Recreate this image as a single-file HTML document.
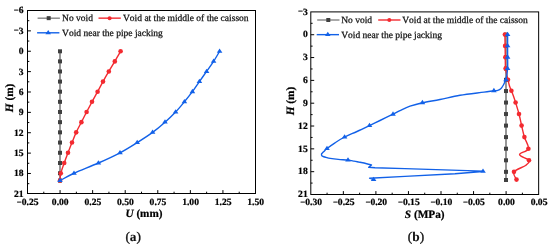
<!DOCTYPE html>
<html><head><meta charset="utf-8"><title>Figure</title>
<style>
html,body{margin:0;padding:0;background:#fff;}
svg{display:block;font-family:"Liberation Serif",serif;fill:#111;font-kerning:none;text-rendering:geometricPrecision;}
</style></head><body>
<svg width="550" height="247" viewBox="0 0 550 247">
<rect width="550" height="247" fill="#fff"/>
<rect x="27.5" y="10.5" width="228.0" height="183.0" fill="none" stroke="#000" stroke-width="1.0"/>
<text x="23.5" y="13.4" font-size="9.6" text-anchor="end" font-weight="bold" fill="#000" stroke="#000" stroke-width="0.22"><tspan font-size="8.7" dy="-0.4">−</tspan><tspan dy="0.4">6</tspan></text>
<path d="M27.5,30.87h3.4" stroke="#000" stroke-width="1"/>
<text x="23.5" y="33.77" font-size="9.6" text-anchor="end" font-weight="bold" fill="#000" stroke="#000" stroke-width="0.22"><tspan font-size="8.7" dy="-0.4">−</tspan><tspan dy="0.4">3</tspan></text>
<path d="M27.5,51.24h3.4" stroke="#000" stroke-width="1"/>
<text x="23.5" y="54.14" font-size="9.6" text-anchor="end" font-weight="bold" fill="#000" stroke="#000" stroke-width="0.22">0</text>
<path d="M27.5,71.62h3.4" stroke="#000" stroke-width="1"/>
<text x="23.5" y="74.52" font-size="9.6" text-anchor="end" font-weight="bold" fill="#000" stroke="#000" stroke-width="0.22">3</text>
<path d="M27.5,91.99h3.4" stroke="#000" stroke-width="1"/>
<text x="23.5" y="94.89" font-size="9.6" text-anchor="end" font-weight="bold" fill="#000" stroke="#000" stroke-width="0.22">6</text>
<path d="M27.5,112.36h3.4" stroke="#000" stroke-width="1"/>
<text x="23.5" y="115.26" font-size="9.6" text-anchor="end" font-weight="bold" fill="#000" stroke="#000" stroke-width="0.22">9</text>
<path d="M27.5,132.73h3.4" stroke="#000" stroke-width="1"/>
<text x="23.5" y="135.63" font-size="9.6" text-anchor="end" font-weight="bold" fill="#000" stroke="#000" stroke-width="0.22">12</text>
<path d="M27.5,153.11h3.4" stroke="#000" stroke-width="1"/>
<text x="23.5" y="156.01" font-size="9.6" text-anchor="end" font-weight="bold" fill="#000" stroke="#000" stroke-width="0.22">15</text>
<path d="M27.5,173.48h3.4" stroke="#000" stroke-width="1"/>
<text x="23.5" y="176.38" font-size="9.6" text-anchor="end" font-weight="bold" fill="#000" stroke="#000" stroke-width="0.22">18</text>
<text x="23.5" y="196.75" font-size="9.6" text-anchor="end" font-weight="bold" fill="#000" stroke="#000" stroke-width="0.22">21</text>
<path d="M27.5,20.69h1.8" stroke="#000" stroke-width="1"/>
<path d="M27.5,41.06h1.8" stroke="#000" stroke-width="1"/>
<path d="M27.5,61.43h1.8" stroke="#000" stroke-width="1"/>
<path d="M27.5,81.80h1.8" stroke="#000" stroke-width="1"/>
<path d="M27.5,102.17h1.8" stroke="#000" stroke-width="1"/>
<path d="M27.5,122.55h1.8" stroke="#000" stroke-width="1"/>
<path d="M27.5,142.92h1.8" stroke="#000" stroke-width="1"/>
<path d="M27.5,163.29h1.8" stroke="#000" stroke-width="1"/>
<path d="M27.5,183.66h1.8" stroke="#000" stroke-width="1"/>
<text x="27.7" y="205.2" font-size="9.6" text-anchor="middle" font-weight="bold" fill="#000" stroke="#000" stroke-width="0.22"><tspan font-size="8.7" dy="-0.4">−</tspan><tspan dy="0.4">0.25</tspan></text>
<path d="M60.07,193.5v-3.4" stroke="#000" stroke-width="1"/>
<text x="60.27" y="205.2" font-size="9.6" text-anchor="middle" font-weight="bold" fill="#000" stroke="#000" stroke-width="0.22">0.00</text>
<path d="M92.64,193.5v-3.4" stroke="#000" stroke-width="1"/>
<text x="92.84" y="205.2" font-size="9.6" text-anchor="middle" font-weight="bold" fill="#000" stroke="#000" stroke-width="0.22">0.25</text>
<path d="M125.21,193.5v-3.4" stroke="#000" stroke-width="1"/>
<text x="125.41" y="205.2" font-size="9.6" text-anchor="middle" font-weight="bold" fill="#000" stroke="#000" stroke-width="0.22">0.50</text>
<path d="M157.79,193.5v-3.4" stroke="#000" stroke-width="1"/>
<text x="157.99" y="205.2" font-size="9.6" text-anchor="middle" font-weight="bold" fill="#000" stroke="#000" stroke-width="0.22">0.75</text>
<path d="M190.36,193.5v-3.4" stroke="#000" stroke-width="1"/>
<text x="190.56" y="205.2" font-size="9.6" text-anchor="middle" font-weight="bold" fill="#000" stroke="#000" stroke-width="0.22">1.00</text>
<path d="M222.93,193.5v-3.4" stroke="#000" stroke-width="1"/>
<text x="223.13" y="205.2" font-size="9.6" text-anchor="middle" font-weight="bold" fill="#000" stroke="#000" stroke-width="0.22">1.25</text>
<text x="255.7" y="205.2" font-size="9.6" text-anchor="middle" font-weight="bold" fill="#000" stroke="#000" stroke-width="0.22">1.50</text>
<path d="M43.79,193.5v-1.8" stroke="#000" stroke-width="1"/>
<path d="M76.36,193.5v-1.8" stroke="#000" stroke-width="1"/>
<path d="M108.93,193.5v-1.8" stroke="#000" stroke-width="1"/>
<path d="M141.50,193.5v-1.8" stroke="#000" stroke-width="1"/>
<path d="M174.07,193.5v-1.8" stroke="#000" stroke-width="1"/>
<path d="M206.64,193.5v-1.8" stroke="#000" stroke-width="1"/>
<path d="M239.21,193.5v-1.8" stroke="#000" stroke-width="1"/>
<path d="M60.00,51.30L60.00,61.38L60.00,71.47L60.00,81.58L60.00,91.69L60.00,101.82L60.00,111.97L60.00,122.15L60.00,132.34L60.00,142.55L60.00,152.78L60.00,163.01L60.00,173.25L60.00,180.60" fill="none" stroke="#404040" stroke-width="1.1"/>
<rect x="58.00" y="49.30" width="4.0" height="4.0" fill="#404040"/>
<rect x="58.00" y="59.38" width="4.0" height="4.0" fill="#404040"/>
<rect x="58.00" y="69.47" width="4.0" height="4.0" fill="#404040"/>
<rect x="58.00" y="79.58" width="4.0" height="4.0" fill="#404040"/>
<rect x="58.00" y="89.69" width="4.0" height="4.0" fill="#404040"/>
<rect x="58.00" y="99.82" width="4.0" height="4.0" fill="#404040"/>
<rect x="58.00" y="109.97" width="4.0" height="4.0" fill="#404040"/>
<rect x="58.00" y="120.15" width="4.0" height="4.0" fill="#404040"/>
<rect x="58.00" y="130.34" width="4.0" height="4.0" fill="#404040"/>
<rect x="58.00" y="140.55" width="4.0" height="4.0" fill="#404040"/>
<rect x="58.00" y="150.78" width="4.0" height="4.0" fill="#404040"/>
<rect x="58.00" y="161.01" width="4.0" height="4.0" fill="#404040"/>
<rect x="58.00" y="171.25" width="4.0" height="4.0" fill="#404040"/>
<rect x="58.00" y="178.60" width="4.0" height="4.0" fill="#404040"/>
<path d="M120.60,51.30C119.63,52.98 116.77,58.02 114.80,61.38C112.83,64.75 110.77,68.11 108.80,71.47C106.83,74.84 104.87,78.21 103.00,81.58C101.13,84.94 99.43,88.32 97.60,91.69C95.77,95.06 93.83,98.44 92.00,101.82C90.17,105.20 88.37,108.59 86.60,111.97C84.83,115.36 83.13,118.75 81.40,122.15C79.67,125.54 77.77,128.94 76.20,132.34C74.63,135.74 73.37,139.14 72.00,142.55C70.63,145.96 69.30,149.37 68.00,152.78C66.70,156.18 65.40,159.60 64.20,163.01C63.00,166.42 61.50,170.32 60.80,173.25C60.10,176.18 60.13,179.38 60.00,180.60" fill="none" stroke="#f32a30" stroke-width="1.4"/>
<circle cx="120.60" cy="51.30" r="2.3" fill="#f32a30"/>
<circle cx="114.80" cy="61.38" r="2.3" fill="#f32a30"/>
<circle cx="108.80" cy="71.47" r="2.3" fill="#f32a30"/>
<circle cx="103.00" cy="81.58" r="2.3" fill="#f32a30"/>
<circle cx="97.60" cy="91.69" r="2.3" fill="#f32a30"/>
<circle cx="92.00" cy="101.82" r="2.3" fill="#f32a30"/>
<circle cx="86.60" cy="111.97" r="2.3" fill="#f32a30"/>
<circle cx="81.40" cy="122.15" r="2.3" fill="#f32a30"/>
<circle cx="76.20" cy="132.34" r="2.3" fill="#f32a30"/>
<circle cx="72.00" cy="142.55" r="2.3" fill="#f32a30"/>
<circle cx="68.00" cy="152.78" r="2.3" fill="#f32a30"/>
<circle cx="64.20" cy="163.01" r="2.3" fill="#f32a30"/>
<circle cx="60.80" cy="173.25" r="2.3" fill="#f32a30"/>
<circle cx="60.00" cy="180.60" r="2.3" fill="#f32a30"/>
<path d="M219.60,51.30C218.60,52.98 215.77,58.02 213.60,61.38C211.43,64.75 208.97,68.11 206.60,71.47C204.23,74.84 201.77,78.21 199.40,81.58C197.03,84.94 194.90,88.32 192.40,91.69C189.90,95.06 187.20,98.44 184.40,101.82C181.60,105.20 178.83,108.59 175.60,111.97C172.37,115.36 168.83,118.75 165.00,122.15C161.17,125.54 157.23,128.94 152.60,132.34C147.97,135.74 142.63,139.14 137.20,142.55C131.77,145.96 126.47,149.37 120.00,152.78C113.53,156.18 106.07,159.60 98.40,163.01C90.73,166.42 80.40,170.32 74.00,173.25C67.60,176.18 62.33,179.38 60.00,180.60" fill="none" stroke="#1261e8" stroke-width="1.4"/>
<path d="M219.60,48.46L222.40,52.76L216.80,52.76Z" fill="#1261e8"/>
<path d="M213.60,58.55L216.40,62.85L210.80,62.85Z" fill="#1261e8"/>
<path d="M206.60,68.64L209.40,72.94L203.80,72.94Z" fill="#1261e8"/>
<path d="M199.40,78.74L202.20,83.04L196.60,83.04Z" fill="#1261e8"/>
<path d="M192.40,88.85L195.20,93.15L189.60,93.15Z" fill="#1261e8"/>
<path d="M184.40,98.98L187.20,103.28L181.60,103.28Z" fill="#1261e8"/>
<path d="M175.60,109.14L178.40,113.44L172.80,113.44Z" fill="#1261e8"/>
<path d="M165.00,119.31L167.80,123.61L162.20,123.61Z" fill="#1261e8"/>
<path d="M152.60,129.50L155.40,133.80L149.80,133.80Z" fill="#1261e8"/>
<path d="M137.20,139.71L140.00,144.01L134.40,144.01Z" fill="#1261e8"/>
<path d="M120.00,149.94L122.80,154.24L117.20,154.24Z" fill="#1261e8"/>
<path d="M98.40,160.17L101.20,164.47L95.60,164.47Z" fill="#1261e8"/>
<path d="M74.00,170.41L76.80,174.71L71.20,174.71Z" fill="#1261e8"/>
<path d="M60.00,177.76L62.80,182.06L57.20,182.06Z" fill="#1261e8"/>
<path d="M37.6,18.15h22.3" stroke="#404040" stroke-width="0.9000000000000001"/>
<rect x="46.70" y="16.15" width="4.0" height="4.0" fill="#404040"/>
<text x="62.1" y="20.9" font-size="9.51" text-anchor="start" font-weight="normal" stroke="#111" stroke-width="0.25">No void</text>
<path d="M98.5,18.15h22.3" stroke="#f32a30" stroke-width="1.4"/>
<circle cx="109.60" cy="18.15" r="2.0" fill="#f32a30"/>
<text x="123.0" y="20.9" font-size="9.51" text-anchor="start" font-weight="normal" stroke="#111" stroke-width="0.25">Void at the middle of the caisson</text>
<path d="M37.1,32.8h22.3" stroke="#1261e8" stroke-width="1.4"/>
<path d="M48.20,29.96L51.00,34.26L45.40,34.26Z" fill="#1261e8"/>
<text x="62.1" y="35.7" font-size="9.51" text-anchor="start" font-weight="normal" stroke="#111" stroke-width="0.25">Void near the pipe jacking</text>
<text x="144" y="217.4" font-size="11.2" text-anchor="middle" font-weight="bold" fill="#000" stroke="#000" stroke-width="0.22"><tspan font-style="italic">U</tspan> (mm)</text>
<text transform="translate(12.5,97.9) rotate(-90)" font-size="11.3" text-anchor="middle" font-weight="bold" fill="#000" stroke="#000" stroke-width="0.22"><tspan font-style="italic">H</tspan> (m)</text>
<text x="133.2" y="240.6" font-size="13.3" text-anchor="middle" font-weight="normal" fill="#111" stroke="#111" stroke-width="0.35">(<tspan font-weight="bold" stroke-width="0.1">a</tspan>)</text>
<rect x="310.8" y="11.9" width="227.84999999999997" height="182.6" fill="none" stroke="#000" stroke-width="1.0"/>
<text x="307.7" y="14.6" font-size="9.6" text-anchor="end" font-weight="bold" fill="#000" stroke="#000" stroke-width="0.22"><tspan font-size="8.7" dy="-0.4">−</tspan><tspan dy="0.4">3</tspan></text>
<path d="M310.8,34.73h3.4" stroke="#000" stroke-width="1"/>
<text x="307.7" y="37.43" font-size="9.6" text-anchor="end" font-weight="bold" fill="#000" stroke="#000" stroke-width="0.22">0</text>
<path d="M310.8,57.55h3.4" stroke="#000" stroke-width="1"/>
<text x="307.7" y="60.25" font-size="9.6" text-anchor="end" font-weight="bold" fill="#000" stroke="#000" stroke-width="0.22">3</text>
<path d="M310.8,80.38h3.4" stroke="#000" stroke-width="1"/>
<text x="307.7" y="83.08" font-size="9.6" text-anchor="end" font-weight="bold" fill="#000" stroke="#000" stroke-width="0.22">6</text>
<path d="M310.8,103.20h3.4" stroke="#000" stroke-width="1"/>
<text x="307.7" y="105.9" font-size="9.6" text-anchor="end" font-weight="bold" fill="#000" stroke="#000" stroke-width="0.22">9</text>
<path d="M310.8,126.03h3.4" stroke="#000" stroke-width="1"/>
<text x="307.7" y="128.72" font-size="9.6" text-anchor="end" font-weight="bold" fill="#000" stroke="#000" stroke-width="0.22">12</text>
<path d="M310.8,148.85h3.4" stroke="#000" stroke-width="1"/>
<text x="307.7" y="151.55" font-size="9.6" text-anchor="end" font-weight="bold" fill="#000" stroke="#000" stroke-width="0.22">15</text>
<path d="M310.8,171.68h3.4" stroke="#000" stroke-width="1"/>
<text x="307.7" y="174.38" font-size="9.6" text-anchor="end" font-weight="bold" fill="#000" stroke="#000" stroke-width="0.22">18</text>
<text x="307.7" y="197.2" font-size="9.6" text-anchor="end" font-weight="bold" fill="#000" stroke="#000" stroke-width="0.22">21</text>
<path d="M310.8,23.31h1.8" stroke="#000" stroke-width="1"/>
<path d="M310.8,46.14h1.8" stroke="#000" stroke-width="1"/>
<path d="M310.8,68.96h1.8" stroke="#000" stroke-width="1"/>
<path d="M310.8,91.79h1.8" stroke="#000" stroke-width="1"/>
<path d="M310.8,114.61h1.8" stroke="#000" stroke-width="1"/>
<path d="M310.8,137.44h1.8" stroke="#000" stroke-width="1"/>
<path d="M310.8,160.26h1.8" stroke="#000" stroke-width="1"/>
<path d="M310.8,183.09h1.8" stroke="#000" stroke-width="1"/>
<text x="311.2" y="205.15" font-size="9.6" text-anchor="middle" font-weight="bold" fill="#000" stroke="#000" stroke-width="0.22"><tspan font-size="8.7" dy="-0.4">−</tspan><tspan dy="0.4">0.30</tspan></text>
<path d="M343.35,194.5v-3.4" stroke="#000" stroke-width="1"/>
<text x="343.75" y="205.15" font-size="9.6" text-anchor="middle" font-weight="bold" fill="#000" stroke="#000" stroke-width="0.22"><tspan font-size="8.7" dy="-0.4">−</tspan><tspan dy="0.4">0.25</tspan></text>
<path d="M375.90,194.5v-3.4" stroke="#000" stroke-width="1"/>
<text x="376.3" y="205.15" font-size="9.6" text-anchor="middle" font-weight="bold" fill="#000" stroke="#000" stroke-width="0.22"><tspan font-size="8.7" dy="-0.4">−</tspan><tspan dy="0.4">0.20</tspan></text>
<path d="M408.45,194.5v-3.4" stroke="#000" stroke-width="1"/>
<text x="408.85" y="205.15" font-size="9.6" text-anchor="middle" font-weight="bold" fill="#000" stroke="#000" stroke-width="0.22"><tspan font-size="8.7" dy="-0.4">−</tspan><tspan dy="0.4">0.15</tspan></text>
<path d="M441.00,194.5v-3.4" stroke="#000" stroke-width="1"/>
<text x="441.4" y="205.15" font-size="9.6" text-anchor="middle" font-weight="bold" fill="#000" stroke="#000" stroke-width="0.22"><tspan font-size="8.7" dy="-0.4">−</tspan><tspan dy="0.4">0.10</tspan></text>
<path d="M473.55,194.5v-3.4" stroke="#000" stroke-width="1"/>
<text x="473.95" y="205.15" font-size="9.6" text-anchor="middle" font-weight="bold" fill="#000" stroke="#000" stroke-width="0.22"><tspan font-size="8.7" dy="-0.4">−</tspan><tspan dy="0.4">0.05</tspan></text>
<path d="M506.10,194.5v-3.4" stroke="#000" stroke-width="1"/>
<text x="506.5" y="205.15" font-size="9.6" text-anchor="middle" font-weight="bold" fill="#000" stroke="#000" stroke-width="0.22">0.00</text>
<text x="539.05" y="205.15" font-size="9.6" text-anchor="middle" font-weight="bold" fill="#000" stroke="#000" stroke-width="0.22">0.05</text>
<path d="M327.07,194.5v-1.8" stroke="#000" stroke-width="1"/>
<path d="M359.62,194.5v-1.8" stroke="#000" stroke-width="1"/>
<path d="M392.17,194.5v-1.8" stroke="#000" stroke-width="1"/>
<path d="M424.73,194.5v-1.8" stroke="#000" stroke-width="1"/>
<path d="M457.27,194.5v-1.8" stroke="#000" stroke-width="1"/>
<path d="M489.82,194.5v-1.8" stroke="#000" stroke-width="1"/>
<path d="M522.38,194.5v-1.8" stroke="#000" stroke-width="1"/>
<path d="M506.00,34.60L506.00,45.90L506.00,57.20L506.00,68.55L506.00,79.80L506.00,91.05L506.00,102.55L506.00,114.05L506.00,125.60L506.00,137.10L506.00,148.70L506.00,160.30L506.00,171.85L506.00,180.00" fill="none" stroke="#404040" stroke-width="1.1"/>
<rect x="504.00" y="32.60" width="4.0" height="4.0" fill="#404040"/>
<rect x="504.00" y="43.90" width="4.0" height="4.0" fill="#404040"/>
<rect x="504.00" y="55.20" width="4.0" height="4.0" fill="#404040"/>
<rect x="504.00" y="66.55" width="4.0" height="4.0" fill="#404040"/>
<rect x="504.00" y="77.80" width="4.0" height="4.0" fill="#404040"/>
<rect x="504.00" y="89.05" width="4.0" height="4.0" fill="#404040"/>
<rect x="504.00" y="100.55" width="4.0" height="4.0" fill="#404040"/>
<rect x="504.00" y="112.05" width="4.0" height="4.0" fill="#404040"/>
<rect x="504.00" y="123.60" width="4.0" height="4.0" fill="#404040"/>
<rect x="504.00" y="135.10" width="4.0" height="4.0" fill="#404040"/>
<rect x="504.00" y="146.70" width="4.0" height="4.0" fill="#404040"/>
<rect x="504.00" y="158.30" width="4.0" height="4.0" fill="#404040"/>
<rect x="504.00" y="169.85" width="4.0" height="4.0" fill="#404040"/>
<rect x="504.00" y="178.00" width="4.0" height="4.0" fill="#404040"/>
<path d="M504.90,34.60C504.93,36.48 505.03,42.13 505.10,45.90C505.17,49.67 505.22,53.43 505.30,57.20C505.38,60.98 505.15,64.78 505.60,68.55C506.05,72.32 507.35,76.89 508.00,79.80C508.65,82.71 508.93,84.17 509.50,86.00C510.07,87.83 510.72,89.00 511.40,90.75C512.08,92.50 512.90,94.53 513.60,96.50C514.30,98.47 514.70,99.62 515.60,102.55C516.50,105.47 518.00,110.21 519.00,114.05C520.00,117.89 520.70,121.76 521.60,125.60C522.50,129.44 523.27,133.25 524.40,137.10C525.53,140.95 529.20,145.78 528.40,148.70C527.60,151.62 519.50,152.67 519.60,154.60C519.70,156.53 527.93,158.53 529.00,160.30C530.07,162.07 528.50,163.27 526.00,165.20C523.50,167.12 515.58,169.45 514.00,171.85C512.42,174.25 516.08,178.31 516.50,179.60" fill="none" stroke="#f32a30" stroke-width="1.4"/>
<circle cx="504.90" cy="34.60" r="2.3" fill="#f32a30"/>
<circle cx="505.10" cy="45.90" r="2.3" fill="#f32a30"/>
<circle cx="505.30" cy="57.20" r="2.3" fill="#f32a30"/>
<circle cx="505.60" cy="68.55" r="2.3" fill="#f32a30"/>
<circle cx="508.00" cy="79.80" r="2.3" fill="#f32a30"/>
<circle cx="511.40" cy="90.75" r="2.3" fill="#f32a30"/>
<circle cx="515.60" cy="102.55" r="2.3" fill="#f32a30"/>
<circle cx="519.00" cy="114.05" r="2.3" fill="#f32a30"/>
<circle cx="521.60" cy="125.60" r="2.3" fill="#f32a30"/>
<circle cx="524.40" cy="137.10" r="2.3" fill="#f32a30"/>
<circle cx="528.40" cy="148.70" r="2.3" fill="#f32a30"/>
<circle cx="529.00" cy="160.30" r="2.3" fill="#f32a30"/>
<circle cx="514.00" cy="171.85" r="2.3" fill="#f32a30"/>
<circle cx="516.50" cy="179.60" r="2.3" fill="#f32a30"/>
<path d="M507.60,34.60C507.60,36.48 507.60,42.13 507.60,45.90C507.60,49.67 507.60,53.43 507.60,57.20C507.60,60.98 507.87,64.78 507.60,68.55C507.33,72.32 506.48,77.52 506.00,79.80C505.52,82.08 505.13,81.33 504.70,82.20C504.27,83.07 504.02,83.93 503.40,85.00C502.78,86.07 501.93,87.70 501.00,88.60C500.07,89.50 498.98,90.05 497.80,90.40C496.62,90.75 496.20,90.42 493.90,90.70C491.60,90.98 489.65,91.33 484.00,92.10C478.35,92.87 467.33,94.07 460.00,95.30C452.67,96.53 446.27,98.27 440.00,99.50C433.73,100.73 427.40,101.58 422.40,102.70C417.40,103.82 413.73,104.88 410.00,106.20C406.27,107.52 402.83,109.27 400.00,110.60C397.17,111.93 396.33,112.55 393.00,114.20C389.67,115.85 383.92,118.60 380.00,120.50C376.08,122.40 373.33,123.77 369.50,125.60C365.67,127.43 361.15,129.60 357.00,131.50C352.85,133.40 348.27,135.12 344.60,137.00C340.93,138.88 337.93,140.88 335.00,142.80C332.07,144.72 328.90,147.00 327.00,148.50C325.10,150.00 324.50,150.93 323.60,151.80C322.70,152.67 321.93,153.38 321.60,153.70C321.60,153.95 321.40,154.75 321.60,155.20C321.80,155.65 322.07,156.03 322.80,156.40C323.53,156.77 324.77,157.07 326.00,157.40C327.23,157.73 328.15,158.07 330.20,158.40C332.25,158.73 335.33,159.12 338.30,159.40C341.27,159.68 345.38,159.82 348.00,160.10C350.62,160.38 352.17,160.77 354.00,161.10C355.83,161.43 356.88,161.67 359.00,162.10C361.12,162.53 364.62,163.23 366.70,163.70C368.78,164.17 370.70,164.70 371.50,164.90L371.50,164.90L368.70,167.20L375.00,167.70L405.00,168.60L483.00,171.10L479.50,171.80L455.00,173.70L405.00,176.40L369.60,178.20L373.60,179.60" fill="none" stroke="#1261e8" stroke-width="1.4" stroke-linejoin="round"/>
<path d="M507.60,31.76L510.40,36.06L504.80,36.06Z" fill="#1261e8"/>
<path d="M507.60,43.06L510.40,47.36L504.80,47.36Z" fill="#1261e8"/>
<path d="M507.60,54.36L510.40,58.66L504.80,58.66Z" fill="#1261e8"/>
<path d="M507.60,65.71L510.40,70.01L504.80,70.01Z" fill="#1261e8"/>
<path d="M506.00,76.96L508.80,81.26L503.20,81.26Z" fill="#1261e8"/>
<path d="M493.90,87.86L496.70,92.16L491.10,92.16Z" fill="#1261e8"/>
<path d="M422.40,99.86L425.20,104.16L419.60,104.16Z" fill="#1261e8"/>
<path d="M393.00,111.36L395.80,115.66L390.20,115.66Z" fill="#1261e8"/>
<path d="M369.50,122.76L372.30,127.06L366.70,127.06Z" fill="#1261e8"/>
<path d="M344.60,134.16L347.40,138.46L341.80,138.46Z" fill="#1261e8"/>
<path d="M327.00,145.66L329.80,149.96L324.20,149.96Z" fill="#1261e8"/>
<path d="M348.00,157.26L350.80,161.56L345.20,161.56Z" fill="#1261e8"/>
<path d="M483.00,168.56L485.80,172.86L480.20,172.86Z" fill="#1261e8"/>
<path d="M373.60,176.76L376.40,181.06L370.80,181.06Z" fill="#1261e8"/>
<path d="M317.2,20.0h22.3" stroke="#404040" stroke-width="0.9000000000000001"/>
<rect x="326.30" y="18.00" width="4.0" height="4.0" fill="#404040"/>
<text x="341.2" y="22.85" font-size="9.51" text-anchor="start" font-weight="normal" stroke="#111" stroke-width="0.25">No void</text>
<path d="M378.2,20.0h22.3" stroke="#f32a30" stroke-width="1.4"/>
<circle cx="389.30" cy="20.00" r="2.0" fill="#f32a30"/>
<text x="402.2" y="22.85" font-size="9.51" text-anchor="start" font-weight="normal" stroke="#111" stroke-width="0.25">Void at the middle of the caisson</text>
<path d="M316.7,34.65h22.3" stroke="#1261e8" stroke-width="1.4"/>
<path d="M327.80,31.81L330.60,36.11L325.00,36.11Z" fill="#1261e8"/>
<text x="341.2" y="37.65" font-size="9.51" text-anchor="start" font-weight="normal" stroke="#111" stroke-width="0.25">Void near the pipe jacking</text>
<text x="424.7" y="218.2" font-size="11.3" text-anchor="middle" font-weight="bold" fill="#000" stroke="#000" stroke-width="0.22"><tspan font-style="italic">S</tspan> (MPa)</text>
<text transform="translate(294.4,101.0) rotate(-90)" font-size="11.3" text-anchor="middle" font-weight="bold" fill="#000" stroke="#000" stroke-width="0.22"><tspan font-style="italic">H</tspan> (m)</text>
<text x="416.0" y="240.6" font-size="13.3" text-anchor="middle" font-weight="normal" fill="#111" stroke="#111" stroke-width="0.35">(<tspan font-weight="bold" stroke-width="0.1">b</tspan>)</text>
</svg>
</body></html>
